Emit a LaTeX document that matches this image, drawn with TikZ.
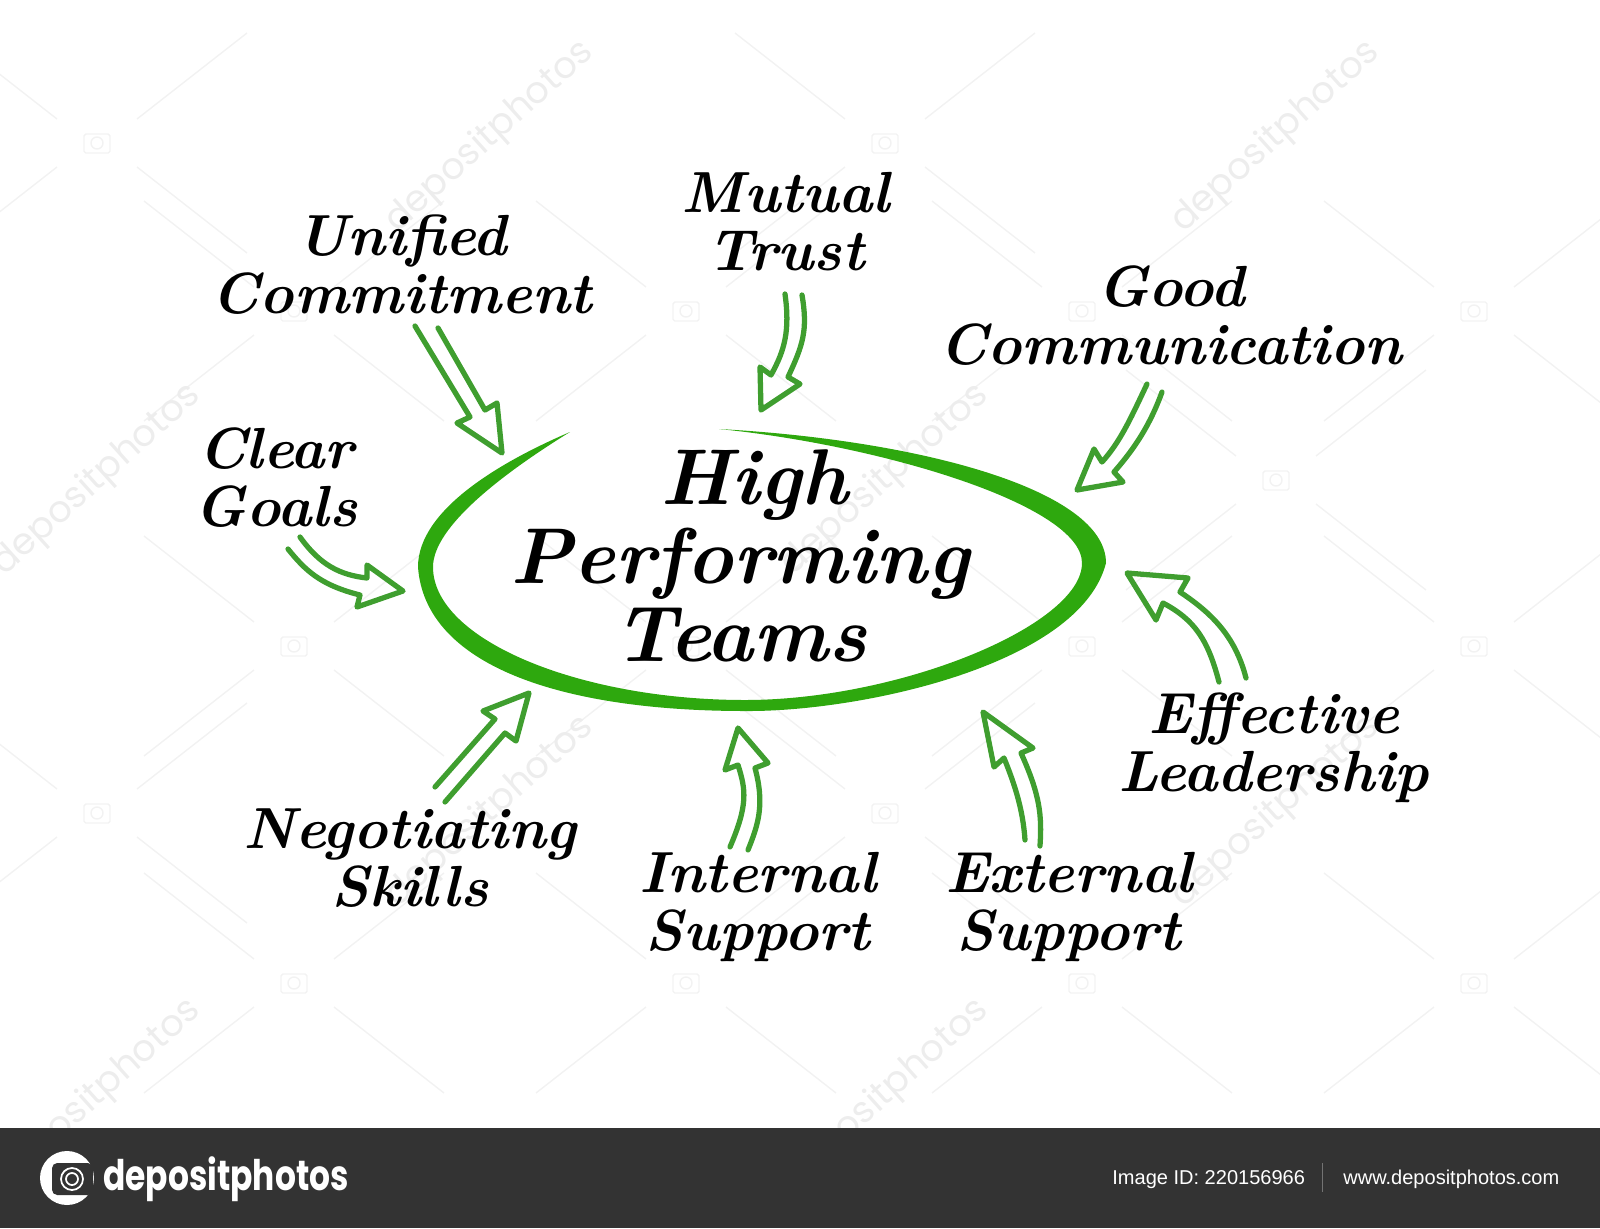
\documentclass[tikz,border=0pt]{standalone}
\usepackage{fontspec}
\usepackage{graphicx}
\usepackage{xcolor}
\newfontfamily\logofont{Poppins}
\newfontfamily\footfont{Liberation Sans}
\definecolor{ringgreen}{HTML}{2EA80E}
\definecolor{arrowgreen}{HTML}{3F9E2F}
\definecolor{footdark}{HTML}{333333}
\tikzset{
    hollow/.style={arrowgreen, line width=3pt, line cap=round, line join=round},
    skill/.style={font=\fontsize{33}{33}\selectfont\itshape\bfseries, align=center, inner sep=0pt},
    title/.style={font=\fontsize{45}{44.5}\selectfont\itshape\bfseries, align=center, inner sep=0pt},
    wmark/.style={black!5, line width=0.8pt},
    wtext/.style={black!7, font=\fontsize{21}{21}\selectfont\logofont, rotate=42, inner sep=0pt},
    foot/.style={anchor=base west, inner sep=0pt, text=white, font=\fontsize{11.4}{11.4}\selectfont\footfont}
}
\begin{document}
\begin{tikzpicture}[x=0.02cm, y=-0.02cm]
    \useasboundingbox (0,0) rectangle (1600,1228);
    % Watermark
    \foreach \wx/\wy in {97/143, 885/143, 294/311, 686/311, 1082/311, 1474/311, 1276/480, 294/646,
        686/646, 1082/646, 1474/646, 97/813, 885/813, 294/983, 686/983, 1082/983, 1474/983} {
        \draw[wmark, rounded corners=1pt] (\wx-13,\wy-9) rectangle (\wx+13,\wy+10);
        \draw[wmark] (\wx,\wy) circle (6);
        \draw[wmark] (\wx-40,\wy-24) -- (\wx-150,\wy-110);
        \draw[wmark] (\wx+40,\wy-24) -- (\wx+150,\wy-110);
        \draw[wmark] (\wx-40,\wy+24) -- (\wx-150,\wy+110);
        \draw[wmark] (\wx+40,\wy+24) -- (\wx+150,\wy+110);
    }
    \foreach \wx/\wy in {490/137, 1276/137, 97/480, 885/480, 490/812, 1276/812, 97/1095, 885/1095} {
        \node[wtext] at (\wx,\wy) {depositphotos};
    }
    % Ring
    \fill[ringgreen] (570,432) .. controls (500,462) and (418,510) .. (418,567)
        .. controls (425,665) and (560,711) .. (745,711)
        .. controls (860,712) and (1080,665) .. (1106,563)
        .. controls (1106,490) and (920,440) .. (719,429)
        .. controls (880,445) and (1082,505) .. (1082,563)
        .. controls (1082,625) and (900,700) .. (745,700)
        .. controls (580,700) and (433,640) .. (433,567)
        .. controls (433,527) and (502,474) .. (570,432) -- cycle;
    % Labels
    \node[title] (teams) at (740,556) {\hspace*{16pt}High\\Performing\\Teams};
    \node[skill] (unified) at (402,265) {Unified\\Commitment};
    \node[skill] (mutual) at (786,222) {Mutual\\Trust};
    \node[skill] (good) at (1171,316) {Good\\Communication};
    \node[skill] (clear) at (276,478) {Clear\\Goals};
    \node[skill] (effective) at (1274,748) {Effective\\Leadership};
    \node[skill] (negotiating) at (410,858) {Negotiating\\Skills};
    \node[skill] (internal) at (758,907) {Internal\\Support};
    \node[skill] (external) at (1069,907) {External\\Support};
    % Arrow tips
    \coordinate (unifiedtip) at (502,453);
    \coordinate (mutualtip) at (761,410);
    \coordinate (goodtip) at (1077,490);
    \coordinate (cleartip) at (403,591);
    \coordinate (effectivetip) at (1127,573);
    \coordinate (negotiatingtip) at (529,693);
    \coordinate (internaltip) at (738,728);
    \coordinate (externaltip) at (983,712);
    % Arrows
    \draw[hollow] (415,326) -- (470,417) -- (457,423) -- (unifiedtip) -- (497,403) -- (485,410) -- (438,328);
    \draw[hollow] (785,294) .. controls (790,330) and (785,350) .. (771,375) -- (760,367) -- (mutualtip)
        -- (800,384) -- (788,377) .. controls (803,345) and (808,330) .. (802,295);
    \draw[hollow] (1147,384) .. controls (1130,420) and (1120,442) .. (1102,462) -- (1094,449) -- (goodtip)
        -- (1123,482) -- (1114,472) .. controls (1135,448) and (1150,425) .. (1162,392);
    \draw[hollow] (288,549) .. controls (305,570) and (320,585) .. (360,595) -- (357,607) -- (cleartip)
        -- (367,565) -- (367,578) .. controls (340,575) and (320,565) .. (300,537);
    \draw[hollow] (1219,682) .. controls (1208,640) and (1195,620) .. (1163,603) -- (1156,620) -- (effectivetip)
        -- (1188,578) -- (1180,592) .. controls (1210,612) and (1235,635) .. (1246,678);
    \draw[hollow] (435,787) -- (495,719) -- (483,711) -- (negotiatingtip) -- (516,741) -- (505,733) -- (445,802);
    \draw[hollow] (730,847) .. controls (748,805) and (746,790) .. (738,765) -- (725,770) -- (internaltip)
        -- (768,763) -- (755,768) .. controls (765,805) and (758,825) .. (748,850);
    \draw[hollow] (1025,840) .. controls (1023,810) and (1015,785) .. (1004,758) -- (994,767) -- (externaltip)
        -- (1033,748) -- (1021,753) .. controls (1040,795) and (1042,815) .. (1040,846);
    % Footer
    \fill[footdark] (0,1128) rectangle (1600,1228);
    \fill[white] (67,1178) circle (27);
    \fill[footdark, rounded corners=3pt] (52,1163) rectangle (93,1195);
    \draw[white, line width=1pt] (72,1179) circle (11);
    \draw[white, line width=1pt] (72,1179) circle (6);
    \node[anchor=base west, inner sep=0pt, text=white, font=\fontsize{24}{24}\selectfont\logofont\bfseries] (logo) at (103,1190) {\scalebox{0.78}[1]{depositphotos}};
    \node[foot] (imageid) at (1112,1184) {Image ID: 220156966};
    \draw[black!55, line width=0.5pt] (1322,1163) -- (1322,1192);
    \node[foot] (site) at (1343,1184) {www.depositphotos.com};
\end{tikzpicture}
\end{document}
